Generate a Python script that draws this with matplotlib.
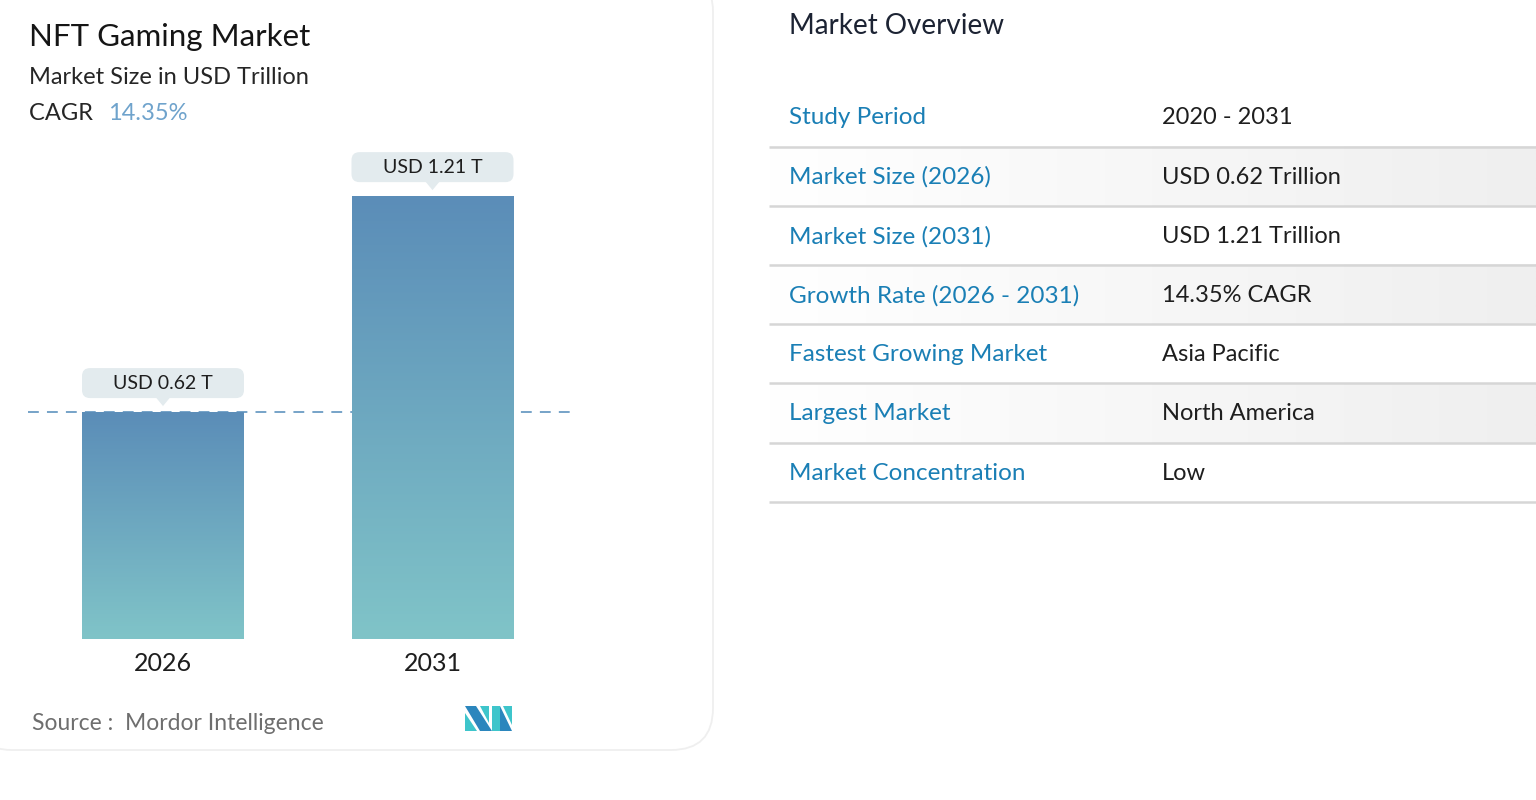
import numpy as np
import matplotlib
matplotlib.use("Agg")
import matplotlib.pyplot as plt
from matplotlib.patches import FancyBboxPatch, Polygon
from matplotlib.colors import to_rgb

plt.rcParams["font.family"] = ["Lato", "DejaVu Sans"]

# data
years = ["2026", "2031"]
market_size = [0.62, 1.21]
bar_labels = ["USD 0.62 T", "USD 1.21 T"]
cagr = "14.35%"

row_names = ["Study Period", "Market Size (2026)", "Market Size (2031)",
             "Growth Rate (2026 - 2031)", "Fastest Growing Market",
             "Largest Market", "Market Concentration"]
row_values = ["2020 - 2031", "USD 0.62 Trillion", "USD 1.21 Trillion",
              "14.35% CAGR", "Asia Pacific", "North America", "Low"]

W, H = 1536, 800
fig = plt.figure(figsize=(W / 100, H / 100), dpi=100)
fig.patch.set_facecolor("white")

# background / decoration axes in pixel coords
bg = fig.add_axes([0, 0, 1, 1], zorder=0)
bg.set_xlim(0, W)
bg.set_ylim(H, 0)
bg.axis("off")

card = FancyBboxPatch((-30, -30), 743, 780, boxstyle="round,pad=0,rounding_size=42",
                      fc="white", ec="#efefef", lw=1.3)
bg.add_patch(card)

# titles
bg.text(29, 37, "NFT Gaming Market", fontsize=22.5, color="#151515", va="center", ha="left")
bg.text(29, 78, "Market Size in USD Trillion", fontsize=17, color="#262626", va="center", ha="left")
bg.text(29, 113, "CAGR ", fontsize=17, color="#262626", va="center", ha="left")
bg.text(108, 113, cagr, fontsize=17, color="#6fa3cc", va="center", ha="left")

bg.text(32, 723, "Source :  Mordor Intelligence", fontsize=16.5, color="#6e6e6e", va="center", ha="left")

# logo
blue, teal = "#2b86bd", "#3ec5cb"
bg.add_patch(Polygon([(465, 713), (465, 731), (477, 731)], closed=True, fc=teal, ec="none"))
bg.add_patch(Polygon([(465, 706), (476, 706), (492, 731), (480, 731)], closed=True, fc=blue, ec="none"))
bg.add_patch(Polygon([(480, 706), (489, 706), (489, 723)], closed=True, fc=teal, ec="none"))
bg.add_patch(Polygon([(492, 706), (500, 706), (500, 731), (492, 731)], closed=True, fc=teal, ec="none"))
bg.add_patch(Polygon([(500, 706), (512, 731), (500, 731)], closed=True, fc=blue, ec="none"))
bg.add_patch(Polygon([(503, 706), (512, 706), (512, 725)], closed=True, fc=teal, ec="none"))

# market overview table
bg.text(789, 26, "Market Overview", fontsize=20, color="#1c2333", va="center", ha="left")
row_y0, row_h = 118, 59.2
grad = np.linspace(0, 1, 256)
c0, c1 = np.array(to_rgb("#ffffff")), np.array(to_rgb("#efefef"))
shade = (c0[None, :] * (1 - grad[:, None]) + c1[None, :] * grad[:, None])[None, :, :]
for i, (name, val) in enumerate(zip(row_names, row_values)):
    yc = row_y0 + i * row_h
    if i % 2 == 1:
        bg.imshow(shade, extent=(769, W, yc + row_h / 2 - 1, yc - row_h / 2 - 1), aspect="auto", zorder=0)
    bg.text(789, yc, name, fontsize=17.5, color="#1a7fb5", va="center", ha="left")
    bg.text(1162, yc, val, fontsize=17, color="#1e1e1e", va="center", ha="left")
    bg.plot([769, W], [yc + row_h / 2 - 1] * 2, color="#d6d6d6", lw=1.8, zorder=1,
            solid_capstyle="butt")
bg.set_xlim(0, W)
bg.set_ylim(H, 0)

# bar chart axes
px_l, px_r, px_b, px_t = 28, 572, 639, 140
ax = fig.add_axes([px_l / W, 1 - px_b / H, (px_r - px_l) / W, (px_b - px_t) / H], zorder=2)
ax.patch.set_alpha(0)
x = np.arange(len(years))
xu = 269.5  # px per x unit
yu = 366.0  # px per y unit
xlim = (-(163 - px_l) / xu, (px_r - 163) / xu)
ylim = (0, (px_b - px_t) / yu)

ax.axhline(market_size[0], color="#6b9cc4", lw=1.3, ls=(0, (6, 4.5)), zorder=1)

bw = 162 / xu
top_c, bot_c = np.array(to_rgb("#5b8db8")), np.array(to_rgb("#80c4c8"))
g = np.linspace(0, 1, 256)[:, None]
bar_grad = top_c[None, :] * (1 - g) + bot_c[None, :] * g
bar_grad = bar_grad[:, None, :]
bars = ax.bar(x, market_size, width=bw, color="none", zorder=2)
for xi, v, b in zip(x, market_size, bars):
    im = ax.imshow(bar_grad, extent=(xi - bw / 2, xi + bw / 2, 0, v), aspect="auto", zorder=2)
    im.set_clip_path(b)

for xi, v, lab in zip(x, market_size, bar_labels):
    b0 = v + 14 / yu
    bh = 30 / yu
    box = FancyBboxPatch((xi - bw / 2, b0), bw, bh,
                         boxstyle="round,pad=0,rounding_size=%f" % (8 / xu),
                         mutation_aspect=xu / yu, fc="#e3ebee", ec="none", zorder=3)
    ax.add_patch(box)
    ax.add_patch(Polygon([(xi - 7 / xu, b0 + 0.5 / yu), (xi + 7 / xu, b0 + 0.5 / yu), (xi, v + 6 / yu)],
                         closed=True, fc="#e3ebee", ec="none", zorder=3))
    ax.text(xi, b0 + bh / 2, lab, fontsize=14, color="#1e1e1e", ha="center", va="center", zorder=4)

ax.set_xlim(*xlim)
ax.set_ylim(*ylim)
ax.set_xticks(x, years)
ax.tick_params(axis="x", length=0, pad=9.5, labelsize=18, labelcolor="#1e1e1e")
ax.set_yticks([])
for s in ax.spines.values():
    s.set_visible(False)

fig.savefig("out.png", dpi=100, facecolor="white")
